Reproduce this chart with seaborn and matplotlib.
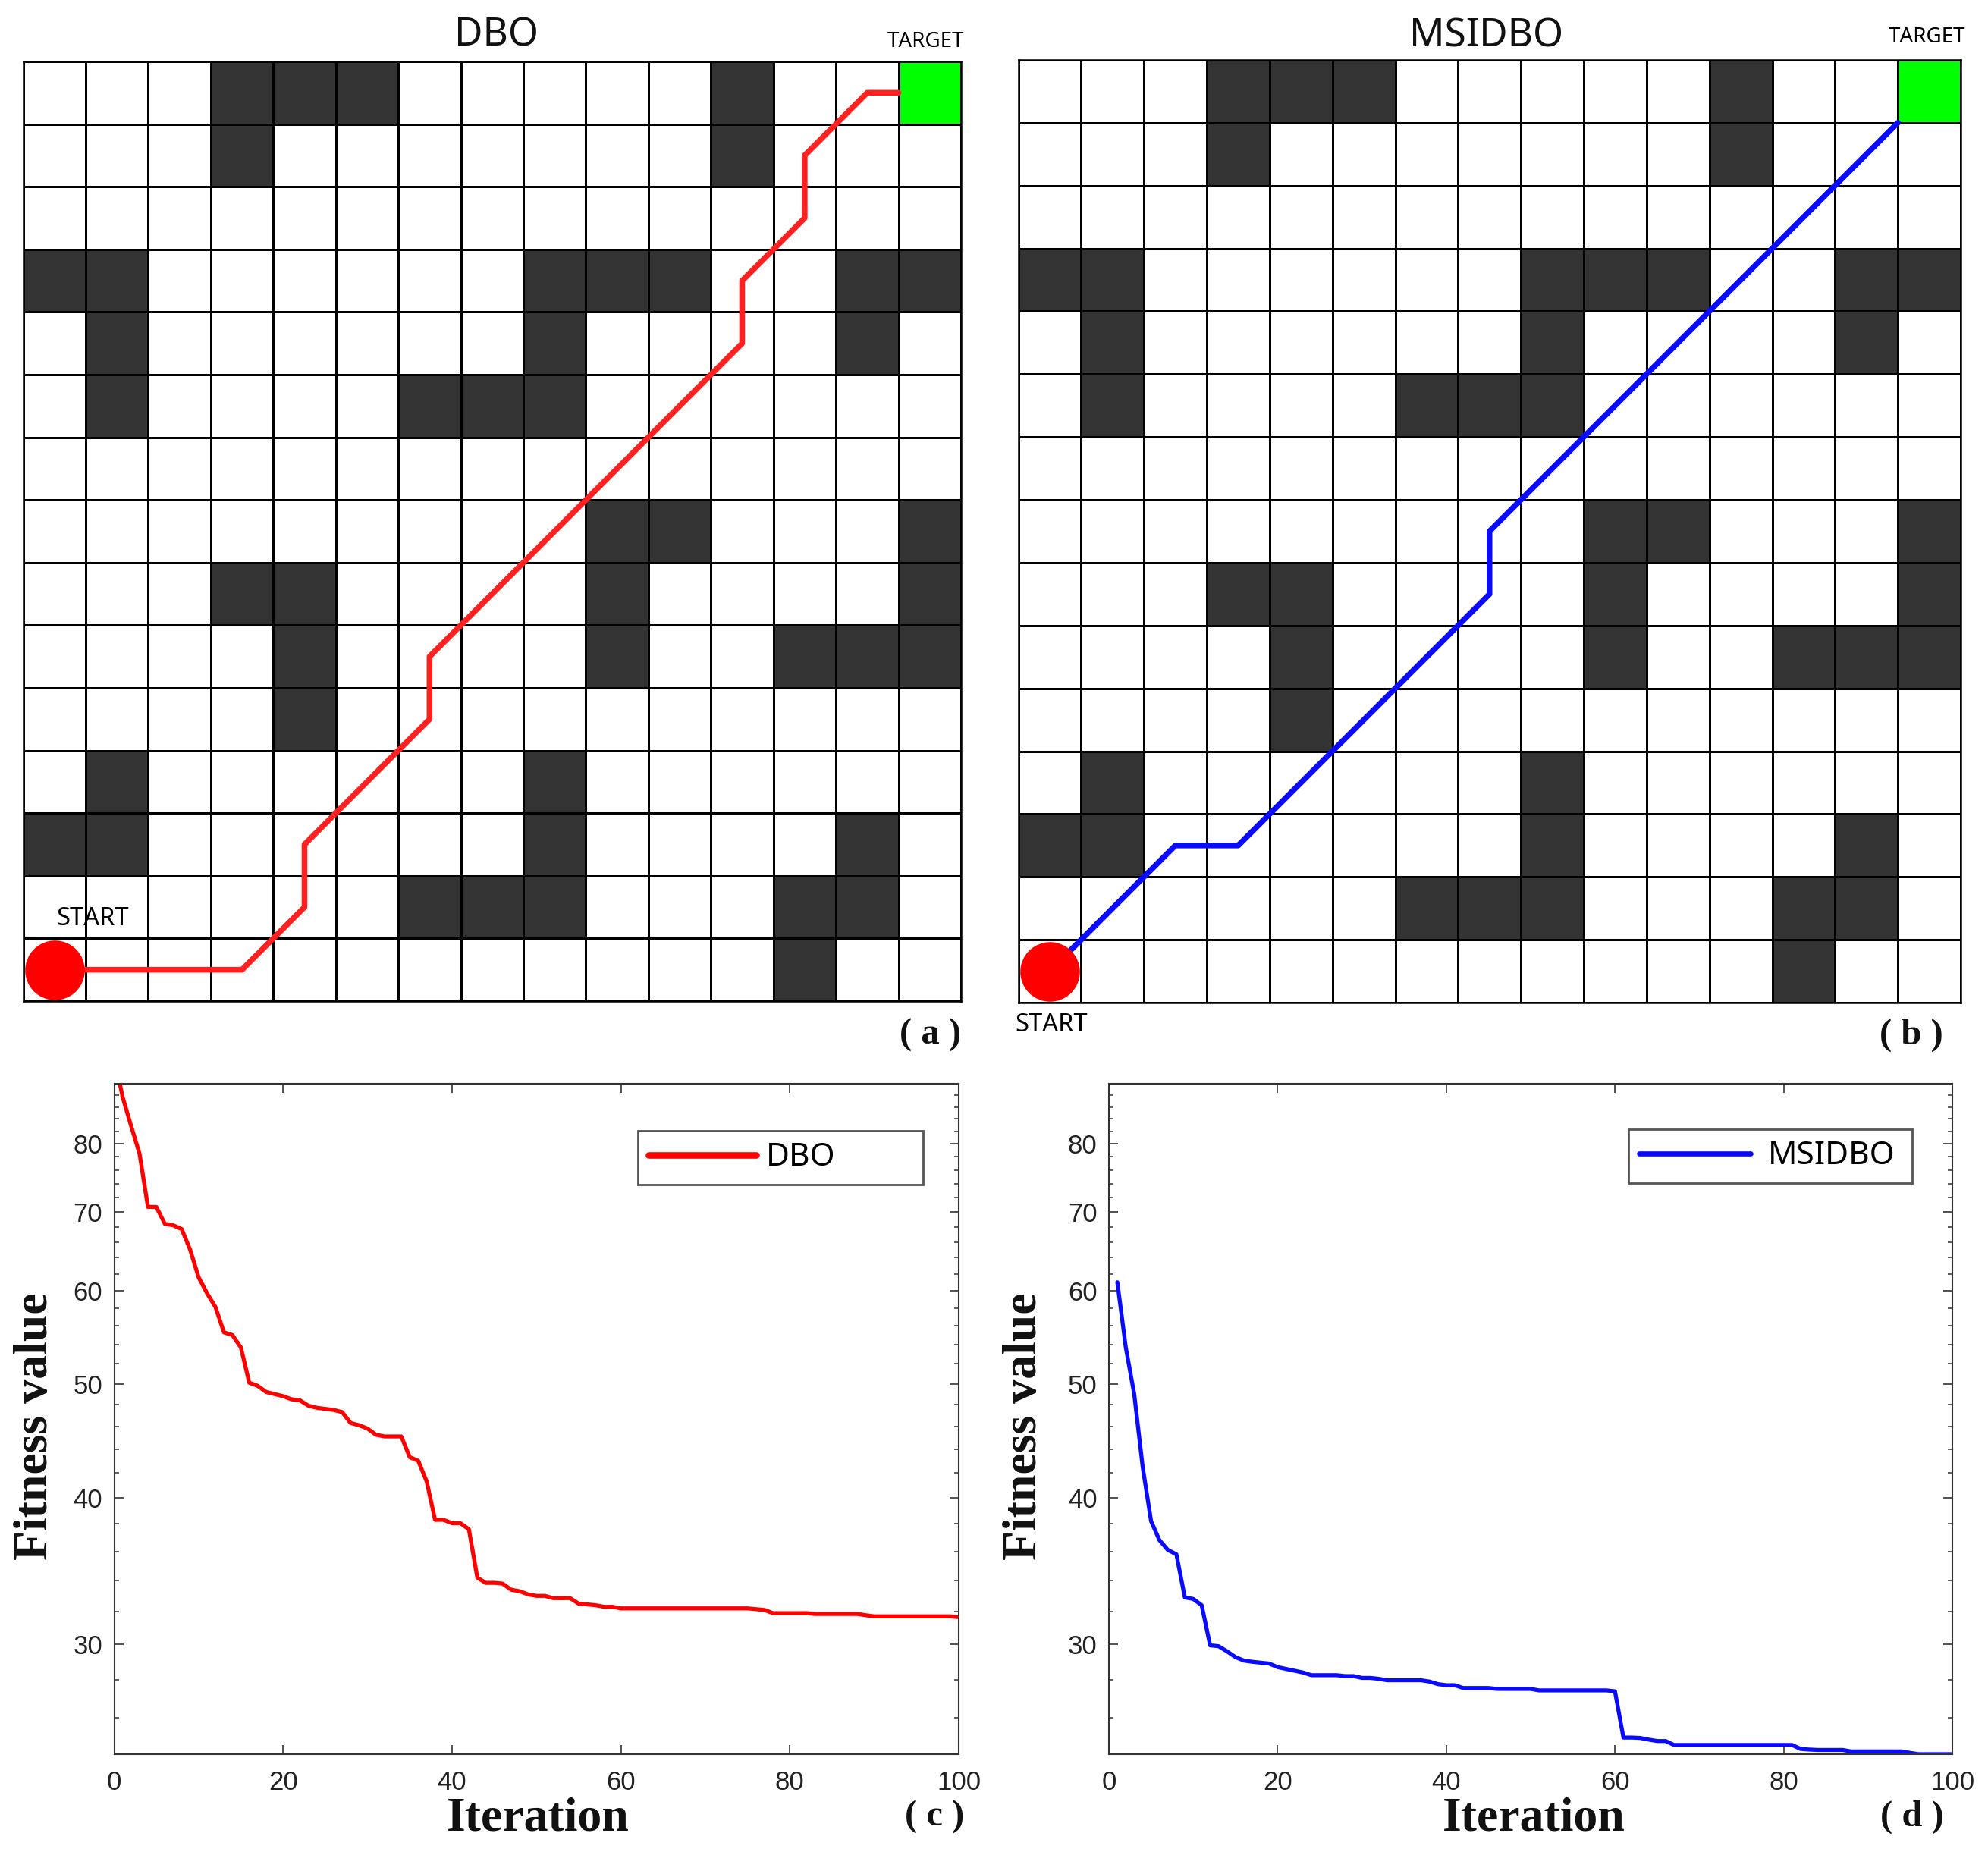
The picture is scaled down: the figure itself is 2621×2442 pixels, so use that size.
import numpy as np
import pandas as pd
import matplotlib
matplotlib.use("Agg")
import matplotlib.pyplot as plt
from matplotlib.colors import ListedColormap
from matplotlib.ticker import FixedLocator, NullFormatter, FixedFormatter
import seaborn as sns

W, H = 2621, 2442

GRID_ROWS = [
    "...###.....#..T",
    "...#.......#...",
    "...............",
    "##......###..##",
    ".#......#....#.",
    ".#....###......",
    "...............",
    ".........##...#",
    "...##....#....#",
    "....#....#..###",
    "....#..........",
    ".#......#......",
    "##......#....#.",
    "......###...##.",
    "............#..",
]

DBO_PATH_X = [0.5, 3.5, 4.5, 4.5, 6.5, 6.5, 11.5, 11.5, 12.5, 12.5, 13.5, 14.0]
DBO_PATH_Y = [14.5, 14.5, 13.5, 12.5, 10.5, 9.5, 4.5, 3.5, 2.5, 1.5, 0.5, 0.5]
MSI_PATH_X = [0.5, 2.5, 3.5, 7.5, 7.5, 14.0]
MSI_PATH_Y = [14.5, 12.5, 12.5, 8.5, 7.5, 1.0]

DBO_ITER = list(range(0, 101))
DBO_FIT = [95, 87.7, 82.9, 78.5, 70.7, 70.7, 68.4, 68.2, 67.7, 65.0, 61.6,
           59.7, 58.1, 55.3, 55.0, 53.7, 50.1, 49.8, 49.2, 49.0, 48.8,
           48.5, 48.4, 47.9, 47.7, 47.6, 47.5, 47.3, 46.3, 46.1, 45.8,
           45.25, 45.1, 45.1, 45.1, 43.3, 43.0, 41.3, 38.3, 38.3, 38.05,
           38.05, 37.6, 34.2, 33.85, 33.85, 33.8, 33.4, 33.3, 33.1, 33.0,
           33.0, 32.85, 32.85, 32.85, 32.5, 32.45, 32.4, 32.3, 32.3, 32.2,
           32.2, 32.2, 32.2, 32.2, 32.2, 32.2, 32.2, 32.2, 32.2, 32.2,
           32.2, 32.2, 32.2, 32.2, 32.2, 32.15, 32.1, 31.9, 31.9, 31.9,
           31.9, 31.9, 31.85, 31.85, 31.85, 31.85, 31.85, 31.85, 31.77, 31.7,
           31.7, 31.7, 31.7, 31.7, 31.7, 31.7, 31.7, 31.7, 31.7, 31.65]

MSI_ITER = list(range(1, 101))
MSI_FIT = [61.0, 53.7, 49.0, 42.5, 38.2, 36.8, 36.1, 35.8, 32.9, 32.8,
           32.4, 29.95, 29.9, 29.6, 29.27, 29.07, 29.0, 28.95, 28.9, 28.7,
           28.6, 28.5, 28.4, 28.25, 28.25, 28.25, 28.25, 28.2, 28.2, 28.1,
           28.1, 28.05, 27.97, 27.97, 27.97, 27.97, 27.97, 27.9, 27.76, 27.7,
           27.7, 27.55, 27.55, 27.55, 27.55, 27.5, 27.5, 27.5, 27.5, 27.5,
           27.42, 27.42, 27.42, 27.42, 27.42, 27.42, 27.42, 27.42, 27.42, 27.37,
           25.0, 25.0, 24.98, 24.9, 24.83, 24.83, 24.64, 24.64, 24.64, 24.64,
           24.64, 24.64, 24.64, 24.64, 24.64, 24.64, 24.64, 24.64, 24.64, 24.64,
           24.64, 24.45, 24.42, 24.4, 24.4, 24.4, 24.4, 24.33, 24.33, 24.33,
           24.33, 24.33, 24.33, 24.33, 24.26, 24.2, 24.2, 24.2, 24.2, 24.2]

Y_MAJOR = [30, 40, 50, 60, 70, 80]
Y_MINOR = [26, 28, 32, 34, 36, 38, 42, 44, 46, 48, 52, 54, 56, 58, 62, 64, 66, 68, 72, 74, 76, 78, 82, 84, 86, 88]
X_MAJOR = [0, 20, 40, 60, 80, 100]

sns.set_theme(style="white")
plt.rcParams["font.family"] = ["Noto Sans", "DejaVu Sans"]
SERIF = "Liberation Serif"
TICKFONT = "Liberation Sans"

fig = plt.figure(figsize=(W / 100, H / 100), dpi=100, facecolor="white")


def axes_px(x0, y0, x1, y1):
    return fig.add_axes([x0 / W, 1 - y1 / H, (x1 - x0) / W, (y1 - y0) / H])


def txt(x, y, s, **kw):
    fig.text(x / W, 1 - y / H, s, ha="center", va="center", **kw)


code = {".": 0, "#": 1, "T": 2}
matrix = np.array([[code[c] for c in row] for row in GRID_ROWS])
cmap = ListedColormap(["#ffffff", "#333333", "#00ff00"])


def grid_panel(box, px, py, color):
    ax = axes_px(*box)
    sns.heatmap(matrix, ax=ax, cmap=cmap, vmin=0, vmax=2, cbar=False,
                linewidths=1.8, linecolor="#000000",
                xticklabels=False, yticklabels=False)
    sns.lineplot(x=px, y=py, ax=ax, sort=False, estimator=None, color=color,
                 linewidth=5.4, zorder=4)
    sns.scatterplot(x=[0.5], y=[14.5], ax=ax, s=3200, color="#ff0000",
                    linewidth=0, zorder=5)
    ax.set_xlim(0, 15)
    ax.set_ylim(15, 0)
    for s in ax.spines.values():
        s.set_visible(True)
        s.set_color("#000000")
        s.set_linewidth(1.8)
    return ax


grid_panel((30.5, 81, 1267, 1320), DBO_PATH_X, DBO_PATH_Y, "#ff2020")
grid_panel((1342.5, 79, 2585, 1322), MSI_PATH_X, MSI_PATH_Y, "#0a0aff")


def curve_panel(box, xs, ys, color, label, lw_leg, leg_box, textpad, handle_len):
    ax = axes_px(*box)
    df = pd.DataFrame({"Iteration": xs, "Fitness": ys, "Algorithm": label})
    sns.lineplot(data=df, x="Iteration", y="Fitness", hue="Algorithm", ax=ax,
                 palette=[color], linewidth=3.8, estimator=None, sort=False)
    ax.set_yscale("log")
    ax.set_xlim(0, 100)
    ax.set_ylim(24.2, 90)
    ax.yaxis.set_major_locator(FixedLocator(Y_MAJOR))
    ax.yaxis.set_major_formatter(FixedFormatter([str(v) for v in Y_MAJOR]))
    ax.yaxis.set_minor_locator(FixedLocator(Y_MINOR))
    ax.yaxis.set_minor_formatter(NullFormatter())
    ax.xaxis.set_major_locator(FixedLocator(X_MAJOR))
    ax.tick_params(axis="both", which="major", direction="in", length=8.4, width=1.2,
                   top=True, right=True, left=True, bottom=True, color="#333333",
                   labelsize=25, labelcolor="#222222")
    ax.tick_params(axis="x", which="major", pad=15)
    ax.tick_params(axis="y", which="major", pad=11)
    ax.tick_params(axis="y", which="minor", direction="in", length=4.2, width=1.1,
                   left=True, right=True, color="#333333")
    for t in ax.get_xticklabels() + ax.get_yticklabels():
        t.set_fontfamily(TICKFONT)
    for s in ax.spines.values():
        s.set_visible(True)
        s.set_color("#333333")
        s.set_linewidth(1.5)
    ax.set_xlabel("")
    ax.set_ylabel("")
    lx0, ly0, lx1, ly1 = leg_box
    bw = box[2] - box[0]
    bh = box[3] - box[1]
    handles, labels = ax.get_legend_handles_labels()
    for h in handles:
        h.set_linewidth(lw_leg)
    leg = ax.legend(handles, labels, loc="upper left", mode="expand",
                    bbox_to_anchor=((lx0 - box[0]) / bw, (box[3] - ly1) / bh,
                                    (lx1 - lx0) / bw, (ly1 - ly0) / bh),
                    borderaxespad=0, fancybox=False, framealpha=1,
                    edgecolor="#555555", handlelength=handle_len,
                    handletextpad=textpad, borderpad=0.34, labelcolor="#000000",
                    prop={"size": 30.5})
    leg.get_frame().set_linewidth(2.0)
    return ax


curve_panel((150.5, 1429, 1264, 2313), DBO_ITER, DBO_FIT, "#ff0000", "DBO", 6.2,
            (841, 1491, 1217, 1560), 0.3, 3.35)
curve_panel((1462, 1429, 2574, 2313), MSI_ITER, MSI_FIT, "#0a0aff", "MSIDBO", 4.8,
            (2147, 1489, 2521, 1558), 0.55, 3.45)

txt(654, 47, "DBO", fontsize=37, color="#111111")
txt(1960, 48, "MSIDBO", fontsize=37, color="#111111")
for x, y in [(1221, 55), (2540, 49)]:
    txt(x, y, "TARGET", fontsize=20, fontweight=500, color="#000000")
txt(122, 1212, "START", fontsize=23.5, fontweight=500, color="#000000")
txt(1386, 1351, "START", fontsize=23.5, fontweight=500, color="#000000")

label_kw = dict(fontsize=46, fontweight="bold", family=SERIF, color="#111111")
txt(709, 2398, "Iteration", **label_kw)
txt(2022, 2398, "Iteration", **label_kw)
txt(47, 1881, "Fitness value", rotation=90, **label_kw)
txt(1351, 1881, "Fitness value", rotation=90, **label_kw)

panel_kw = dict(fontsize=35, fontweight="bold", family=SERIF, color="#111111")
txt(1227, 1365, "( a )", **panel_kw)
txt(2520, 1365, "( b )", **panel_kw)
txt(1232, 2396, "( c )", **panel_kw)
txt(2521, 2396, "( d )", **panel_kw)

fig.savefig("out.png", dpi=100, facecolor="white")
